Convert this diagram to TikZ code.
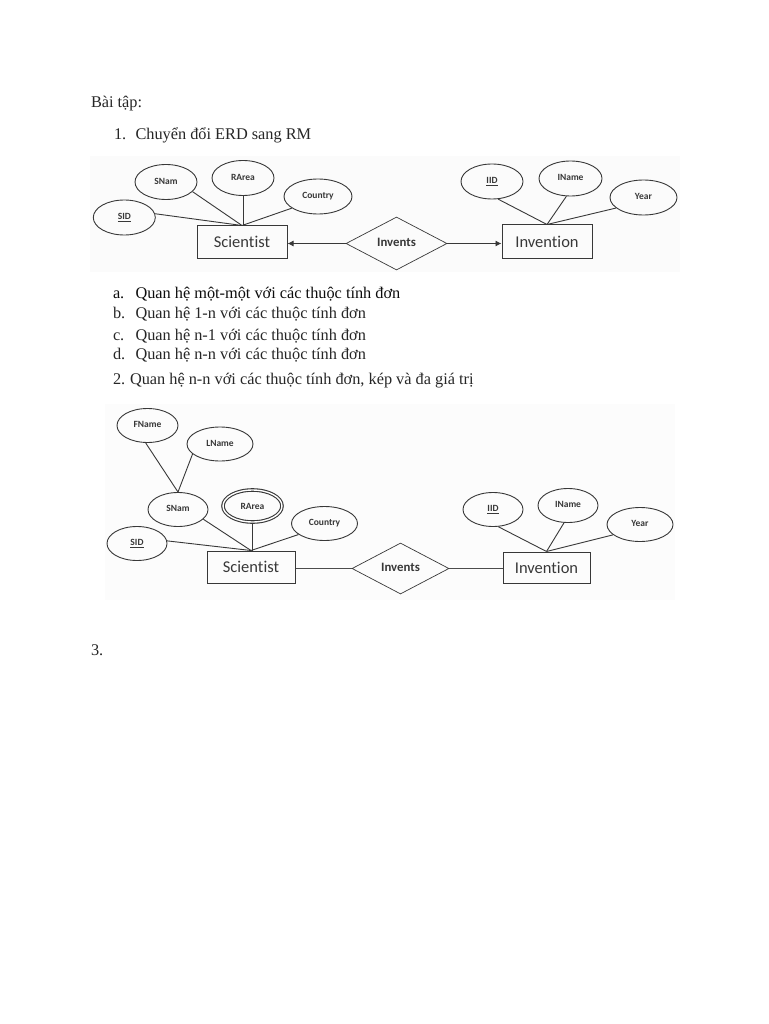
\documentclass[tikz,border=0pt]{standalone}
\usepackage{fontspec}
\setmainfont{Liberation Serif}
\newfontfamily\erfont[Ligatures=NoCommon]{Carlito}
\usetikzlibrary{shapes.geometric,arrows.meta}
\definecolor{ink}{gray}{0.22}
\newcommand{\lift}[1]{\raisebox{2pt}{#1}}
\tikzset{
  txt/.style={anchor=base west,inner sep=0pt,outer sep=0pt,text=black!85,font=\fontsize{16.3}{19}\selectfont},
  attr/.style={ellipse,draw=ink,line width=0.9pt,inner sep=0pt,minimum width=2*#1,minimum height=35pt,font=\erfont\bfseries\fontsize{9.5}{11}\selectfont,text=ink},
  attrs/.style={attr=#1,minimum height=34pt},
  ent/.style={rectangle,draw=ink,line width=1pt,inner sep=0pt,font=\erfont\fontsize{16.5}{19}\selectfont,text=ink},
  rel/.style={diamond,draw=ink,line width=0.7pt,inner sep=0pt,font=\erfont\bfseries\fontsize{12.8}{14}\selectfont,text=ink},
  link/.style={draw=ink,line width=0.9pt},
  thicklink/.style={draw=ink!90,line width=1.3pt},
  tip/.style={link,-{Latex[length=6pt,width=6pt]}},
}
\begin{document}
\begin{tikzpicture}[x=1pt,y=-1pt]
\useasboundingbox (0,0) rectangle (768,1024);
\fill[white] (0,0) rectangle (768,1024);
\fill[black!1.5] (90,156) rectangle (680,272);
\fill[black!1] (105,404) rectangle (675,600);
% text
\node[txt] (t0) at (91,108) {Bài tập:};
\node[txt] (t1n) at (114,140) {1.};
\node[txt] (t1) at (135.5,140) {Chuyển đổi ERD sang RM};
\node[txt,text=black!95] (tan) at (113,298) {a.};
\node[txt,text=black!95] (ta) at (135.5,298) {Quan hệ một-một với các thuộc tính đơn};
\node[txt] (tbn) at (113,318) {b.};
\node[txt] (tb) at (135.5,318) {Quan hệ 1-n với các thuộc tính đơn};
\node[txt] (tcn) at (113,340) {c.};
\node[txt] (tc) at (135.5,340) {Quan hệ n-1 với các thuộc tính đơn};
\node[txt] (tdn) at (113,359) {d.};
\node[txt] (td) at (135.5,359) {Quan hệ n-n với các thuộc tính đơn};
\node[txt] (t2n) at (113,384) {2.};
\node[txt] (t2) at (130,384) {Quan hệ n-n với các thuộc tính đơn, kép và đa giá trị};
\node[txt] (t3) at (91,655) {3.};
% diagram 1
\node[ent,minimum width=90pt,minimum height=32pt] (sciA) at (242,242) {Scientist};
\node[ent,minimum width=90pt,minimum height=33pt] (invA) at (547,241.5) {Invention};
\node[rel,minimum width=101pt,minimum height=53pt] (relA) at (396.5,243.5) {\lift{Invents}};
\node[attr=31pt] (sidA) at (124.3,217.5) {\lift{\underline{SID}}};
\node[attr=31pt] (snamA) at (166,182) {\lift{SNam}};
\node[attr=31pt] (rareaA) at (243,178) {\lift{RArea}};
\node[attr=34pt] (countryA) at (318,196.5) {\lift{Country}};
\node[attr=31pt] (iidA) at (492,181.5) {\lift{\underline{IID}}};
\node[attr=31.5pt] (inameA) at (570.5,178.5) {\lift{IName}};
\node[attr=33.5pt] (yearA) at (643.5,197.5) {\lift{Year}};
\draw[link] (sidA.7) -- (sciA.north);
\draw[link] (snamA.-20) -- (sciA.north);
\draw[link] (rareaA.south) -- (rareaA.south |- sciA.north);
\draw[link] (countryA.204) -- (sciA.north);
\draw[link] (iidA.-71) -- (invA.north);
\draw[link] (inameA.-103) -- (invA.north);
\draw[link] (yearA.201) -- (invA.north);
\draw[tip] (relA.west) -- (relA.west -| sciA.east);
\draw[tip] (relA.east) -- (relA.east -| invA.west);
% diagram 2
\node[ent,minimum width=88pt,minimum height=32pt] (sciB) at (251,567) {Scientist};
\node[ent,minimum width=87pt,minimum height=31pt] (invB) at (546.5,567.5) {Invention};
\node[rel,minimum width=97pt,minimum height=51pt] (relB) at (400.5,568.5) {\lift{Invents}};
\node[attrs=30.5pt] (fnameB) at (147.5,425.5) {\lift{FName}};
\node[attrs=33pt] (lnameB) at (220,444) {\lift{LName}};
\node[attrs=30pt] (snamB) at (178,509.5) {\lift{SNam}};
\node[attr=29.5pt,double,double distance=1.4pt,line width=1.1pt,minimum height=32pt] (rareaB) at (252.5,506) {RArea};
\node[attrs=33pt] (countryB) at (324.5,523.5) {\lift{Country}};
\node[attrs=30pt] (sidB) at (137,543.5) {\lift{\underline{SID}}};
\node[attrs=30pt] (iidB) at (493,509.5) {\lift{\underline{IID}}};
\node[attrs=30pt] (inameB) at (568,505.5) {\lift{IName}};
\node[attrs=33pt] (yearB) at (640,524.5) {\lift{Year}};
\draw[link] (sidB.5) -- (sciB.north);
\draw[link] (snamB.-21) -- (sciB.north);
\draw[link] (rareaB.south) -- (rareaB.south |- sciB.north);
\draw[link] (countryB.203) -- (sciB.north);
\draw[link] (iidB.-73) -- (invB.north);
\draw[link] (inameB.-103) -- (invB.north);
\draw[link] (yearB.201) -- (invB.north);
\draw[link] (fnameB.-96) -- (snamB.north);
\draw[link] (lnameB.200) -- (snamB.north);
\draw[thicklink] (relB.west) -- (relB.west -| sciB.east);
\draw[thicklink] (relB.east) -- (relB.east -| invB.west);
\end{tikzpicture}
\end{document}
